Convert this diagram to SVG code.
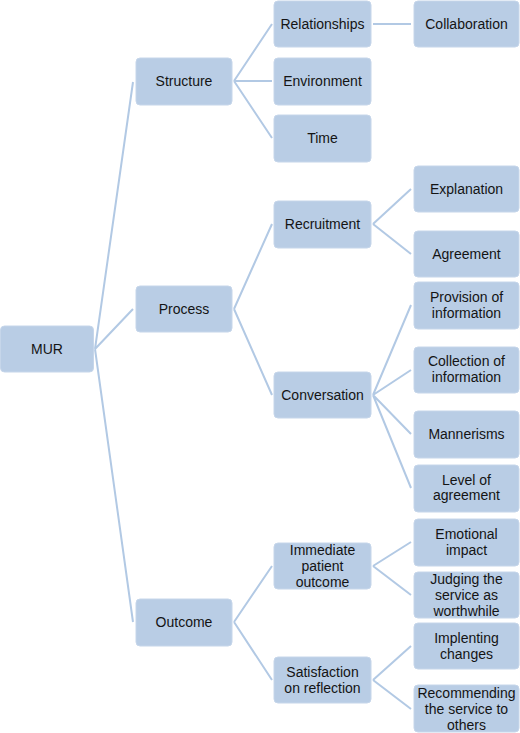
<svg xmlns="http://www.w3.org/2000/svg" width="520" height="733" viewBox="0 0 520 733">
<style>
.n rect{fill:#b9cde5;stroke:#c6d6ea;stroke-width:1}
.n text{font-family:"Liberation Sans",Arial,sans-serif;font-size:14px;fill:#141414;text-anchor:middle}
.c path{fill:none;stroke:#b2c9e4;stroke-width:2}
</style>
<rect width="520" height="733" fill="#ffffff"/>
<g class="c">
<path d="M95 349L133 82M95 349L133 309M95 349L133 622"/>
<path d="M234 81L272 24M234 81L272 81M234 81L272 138"/>
<path d="M373 24L411 24"/>
<path d="M234 309L272 224M234 309L272 395"/>
<path d="M373 224L411 189M373 224L411 254"/>
<path d="M373 395L411 305M373 395L411 370M373 395L411 434M373 395L411 488"/>
<path d="M234 622L272 566M234 622L272 680"/>
<path d="M373 566L411 542M373 566L411 595"/>
<path d="M373 680L411 646M373 680L411 709"/>
</g>
<g class="n" id="mur"><rect x="0.5" y="326" width="93" height="46" rx="4"/><text x="47" y="354">MUR</text></g>
<g class="n" id="structure"><rect x="136" y="58" width="96" height="47" rx="4"/><text x="184" y="86">Structure</text></g>
<g class="n" id="process"><rect x="136" y="286" width="96" height="46" rx="4"/><text x="184" y="314">Process</text></g>
<g class="n" id="outcome"><rect x="136" y="599" width="96" height="47" rx="4"/><text x="184" y="627">Outcome</text></g>
<g class="n" id="relationships"><rect x="274" y="1" width="97" height="46" rx="4"/><text x="322.5" y="29">Relationships</text></g>
<g class="n" id="environment"><rect x="274" y="58" width="97" height="47" rx="4"/><text x="322.5" y="86">Environment</text></g>
<g class="n" id="time"><rect x="274" y="115" width="97" height="47" rx="4"/><text x="322.5" y="143">Time</text></g>
<g class="n" id="recruitment"><rect x="274" y="201" width="97" height="47" rx="4"/><text x="322.5" y="229">Recruitment</text></g>
<g class="n" id="conversation"><rect x="274" y="372" width="97" height="46" rx="4"/><text x="322.5" y="400">Conversation</text></g>
<g class="n" id="immediate"><rect x="274" y="543" width="97" height="46" rx="4"/><text x="322.5" y="555">Immediate</text><text x="322.5" y="571">patient</text><text x="322.5" y="587">outcome</text></g>
<g class="n" id="satisfaction"><rect x="274" y="657" width="97" height="46" rx="4"/><text x="322.5" y="677">Satisfaction</text><text x="322.5" y="693">on reflection</text></g>
<g class="n" id="collaboration"><rect x="414" y="1" width="105" height="46" rx="4"/><text x="466.5" y="29">Collaboration</text></g>
<g class="n" id="explanation"><rect x="414" y="166" width="105" height="46" rx="4"/><text x="466.5" y="194">Explanation</text></g>
<g class="n" id="agreement"><rect x="414" y="231" width="105" height="46" rx="4"/><text x="466.5" y="259">Agreement</text></g>
<g class="n" id="provision"><rect x="414" y="282" width="105" height="47" rx="4"/><text x="466.5" y="302">Provision of</text><text x="466.5" y="318">information</text></g>
<g class="n" id="collection"><rect x="414" y="347" width="105" height="46" rx="4"/><text x="466.5" y="366">Collection of</text><text x="466.5" y="382">information</text></g>
<g class="n" id="mannerisms"><rect x="414" y="411" width="105" height="47" rx="4"/><text x="466.5" y="439">Mannerisms</text></g>
<g class="n" id="levelagreement"><rect x="414" y="465" width="105" height="47" rx="4"/><text x="466.5" y="485">Level of</text><text x="466.5" y="500">agreement</text></g>
<g class="n" id="emotional"><rect x="414" y="519" width="105" height="47" rx="4"/><text x="466.5" y="539">Emotional</text><text x="466.5" y="555">impact</text></g>
<g class="n" id="judging"><rect x="414" y="572" width="105" height="46" rx="4"/><text x="466.5" y="584">Judging the</text><text x="466.5" y="600">service as</text><text x="466.5" y="616">worthwhile</text></g>
<g class="n" id="implenting"><rect x="414" y="623" width="105" height="46" rx="4"/><text x="466.5" y="643">Implenting</text><text x="466.5" y="659">changes</text></g>
<g class="n" id="recommending"><rect x="414" y="685" width="105" height="47" rx="4"/><text x="466.5" y="698">Recommending</text><text x="466.5" y="714">the service to</text><text x="466.5" y="730">others</text></g>
</svg>
